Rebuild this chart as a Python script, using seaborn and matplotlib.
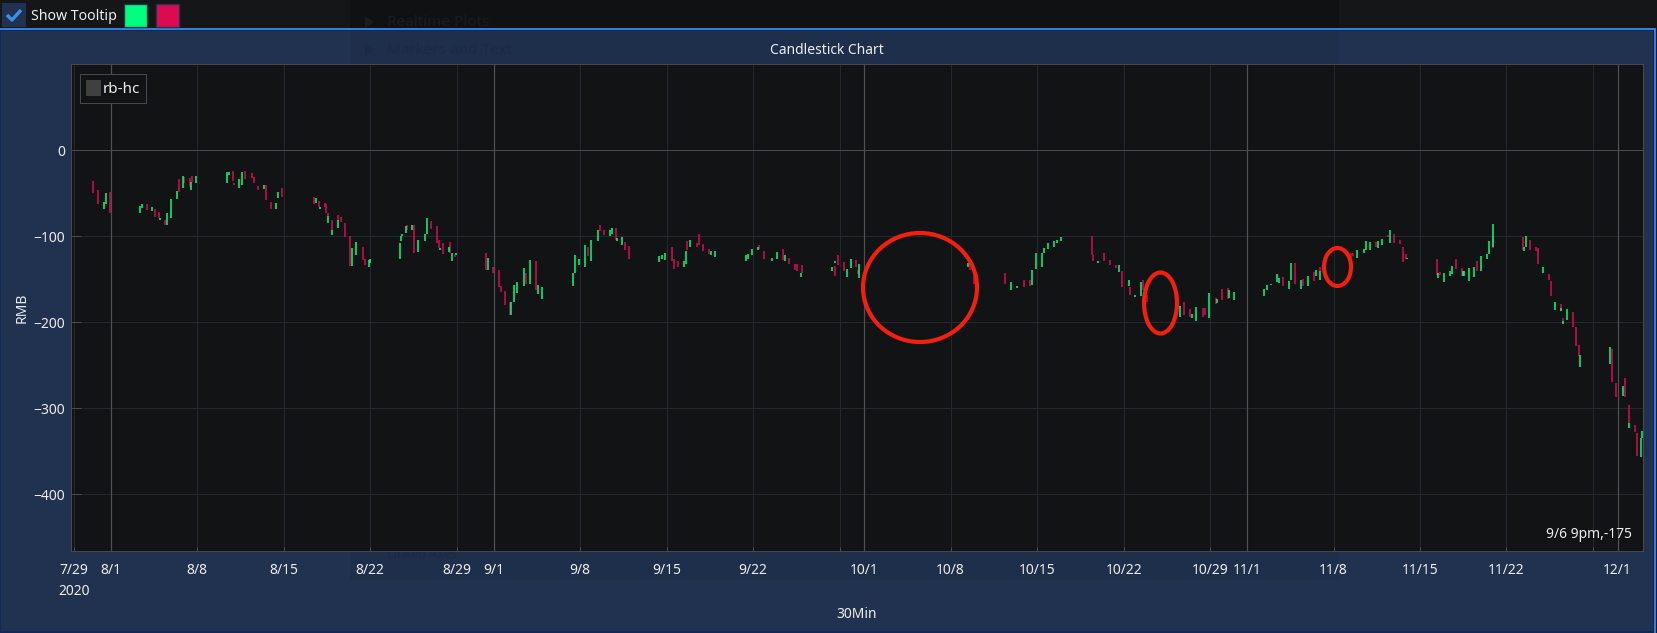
import matplotlib
matplotlib.use("Agg")
import matplotlib.pyplot as plt
from matplotlib.patches import Rectangle, Ellipse, Patch, Polygon
from matplotlib.ticker import FixedLocator, FixedFormatter
import pandas as pd
import seaborn as sns

# Days counted from 1 August 2020; one bar every 30 minutes of trading
days = [
    -1.43, -1.07, -0.58, -0.42, -0.10,
    2.38, 2.54, 2.90, 3.35, 3.57, 3.87, 3.95, 4.40, 4.57, 4.89, 5.38, 5.54, 5.86, 5.92, 6.40, 6.49, 6.59, 6.91,
    9.38, 9.56, 9.89, 9.94, 10.37, 10.59, 10.88, 11.42, 11.59, 11.89, 12.40, 12.58, 12.94, 13.39, 13.55, 13.88,
    16.42, 16.58, 16.87, 16.93, 17.36, 17.44, 17.58, 17.60, 17.90, 17.93, 18.36, 18.41, 18.61, 18.93, 19.38, 19.50, 19.88, 20.39, 20.57, 20.87, 20.95,
    23.38, 23.46, 23.57, 23.87, 23.95, 24.40, 24.57, 24.89, 25.43, 25.57, 25.92, 26.38, 26.54, 26.62, 26.91, 27.38, 27.46, 27.62, 27.89, 27.94,
    30.40, 30.56, 30.91, 31.40, 31.59, 31.89, 32.31, 32.40, 32.61, 32.88, 33.42, 33.59, 33.93, 34.39, 34.58, 34.90,
    37.42, 37.58, 37.90, 38.39, 38.61, 38.87, 39.42, 39.60, 39.90, 40.41, 40.57, 40.90, 40.98, 41.38, 41.60, 41.95,
    44.40, 44.60, 44.89, 45.43, 45.62, 45.92, 46.38, 46.54, 46.62, 46.89, 47.43, 47.62, 47.92, 48.40, 48.59, 48.89,
    51.42, 51.61, 51.91, 52.37, 52.50, 52.90, 53.50, 53.93, 54.44, 54.61, 54.90, 55.39, 55.58, 55.88, 55.96,
    58.41, 58.59, 58.63, 58.90, 59.38, 59.60, 59.90, 60.35, 60.52, 60.60,
    69.37, 69.59, 69.89,
    72.37, 72.90, 73.39, 73.91, 74.42, 74.58, 74.91, 75.39, 75.58, 75.90, 76.39, 76.58, 76.91,
    79.42, 79.54, 79.92, 80.43, 80.90, 81.38, 81.60, 81.89, 82.41, 82.54, 82.90, 83.38, 83.54, 83.89,
    86.57, 86.89, 87.40, 87.56, 87.88, 88.40, 88.56, 88.89, 89.46, 89.56, 89.94, 90.43, 90.55, 90.94,
    93.39, 93.58, 93.91, 94.39, 94.58, 94.91, 95.39, 95.58, 95.90, 96.40, 96.55, 96.89, 97.39, 97.58, 97.90, 97.92,
    100.43, 100.59, 100.87, 101.44, 101.60, 101.92, 102.44, 102.60, 102.92, 103.43, 103.57, 103.89, 104.38, 104.60, 104.89, 104.95,
    107.37, 107.45, 107.59, 107.94, 108.40, 108.59, 108.89, 109.40, 109.45, 109.59, 109.94, 110.39, 110.59, 110.91, 111.42, 111.58, 111.88, 111.93,
    114.36, 114.44, 114.58, 114.91, 115.37, 115.58, 115.92, 116.42, 116.58, 116.93, 117.39, 117.45, 117.58, 117.60, 117.90, 118.39, 118.61, 118.90, 118.96,
    121.41, 121.58, 121.90, 122.42, 122.58, 122.90, 122.95, 123.41, 123.58, 123.88, 123.96,
]
highs = [
    -36, -46, -60, -50, -49,
    -65, -63, -63, -66, -69, -72, -79, -81, -73, -57, -48, -34, -30, -31, -32, -37, -30, -30,
    -26, -26, -24, -38, -34, -26, -24, -27, -31, -42, -41, -41, -60, -61, -49, -44,
    -55, -56, -59, -66, -62, -63, -73, -77, -81, -93, -81, -75, -78, -85, -100, -114, -107, -112, -126, -128, -127,
    -108, -100, -98, -88, -87, -87, -87, -104, -98, -79, -82, -88, -105, -114, -108, -113, -107, -120, -122, -120,
    -120, -125, -136, -139, -158, -164, -177, -177, -157, -153, -137, -143, -128, -129, -157, -159,
    -143, -122, -126, -110, -112, -105, -93, -87, -93, -93, -91, -91, -102, -101, -107, -111,
    -123, -122, -119, -113, -127, -129, -129, -117, -106, -104, -108, -98, -109, -115, -117, -117,
    -122, -121, -115, -112, -110, -117, -125, -118, -115, -122, -125, -132, -132, -143, -134,
    -136, -135, -129, -122, -130, -138, -127, -128, -139, -132,
    -131, -131, -141,
    -143, -153, -158, -151, -151, -139, -120, -119, -114, -108, -106, -105, -101,
    -100, -122, -129, -120, -128, -133, -134, -141, -151, -159, -168, -153, -151, -168,
    -181, -177, -185, -190, -182, -183, -183, -166, -172, -173, -161, -160, -163, -165,
    -161, -157, -155, -144, -149, -148, -152, -131, -131, -151, -150, -146, -142, -139, -136, -141,
    -120, -119, -116, -115, -106, -107, -107, -106, -103, -99, -93, -97, -104, -112, -121, -125,
    -126, -143, -142, -143, -140, -135, -127, -137, -141, -141, -137, -136, -129, -123, -121, -106, -100, -86,
    -101, -112, -100, -105, -113, -114, -136, -144, -152, -177, -179, -184, -195, -199, -185, -188, -206, -226, -238,
    -229, -231, -271, -274, -265, -296, -317, -319, -329, -334, -326,
]
lows = [
    -50, -63, -69, -63, -73,
    -73, -67, -70, -71, -78, -79, -81, -87, -87, -79, -57, -49, -44, -38, -43, -46, -37, -38,
    -38, -29, -36, -41, -44, -41, -34, -33, -38, -46, -45, -58, -68, -68, -56, -55,
    -63, -62, -66, -69, -66, -73, -77, -85, -93, -99, -91, -82, -84, -101, -135, -135, -122, -128, -134, -136, -131,
    -127, -106, -100, -96, -93, -93, -120, -118, -106, -97, -92, -108, -114, -116, -121, -118, -120, -129, -124, -122,
    -139, -139, -143, -159, -165, -180, -192, -192, -176, -166, -158, -155, -156, -163, -167, -173,
    -158, -143, -134, -136, -123, -129, -106, -94, -99, -100, -97, -105, -106, -110, -116, -127,
    -130, -126, -128, -129, -138, -136, -136, -132, -116, -113, -113, -110, -117, -121, -122, -124,
    -129, -126, -122, -116, -115, -126, -129, -127, -128, -129, -132, -139, -141, -148, -143,
    -141, -146, -131, -133, -140, -147, -137, -136, -144, -149,
    -136, -139, -155,
    -155, -162, -160, -159, -158, -157, -138, -136, -119, -115, -113, -108, -106,
    -122, -129, -131, -129, -133, -137, -142, -159, -158, -168, -171, -170, -163, -176,
    -194, -192, -194, -195, -199, -194, -192, -195, -179, -178, -174, -173, -172, -174,
    -169, -163, -157, -153, -154, -158, -161, -151, -155, -161, -158, -158, -152, -146, -141, -151,
    -125, -123, -125, -119, -116, -116, -113, -114, -110, -101, -108, -108, -109, -130, -127, -127,
    -145, -149, -145, -153, -146, -144, -138, -146, -146, -146, -152, -147, -140, -141, -127, -121, -114, -113,
    -116, -117, -113, -116, -117, -132, -143, -151, -170, -186, -187, -187, -199, -202, -197, -206, -228, -239, -252,
    -249, -269, -287, -286, -287, -317, -323, -328, -355, -356, -335,
]
# G = closed higher, R = closed lower
moves = (
    "RRGGR"
    "GGRGRRGRGGGRGRRGRG"
    "GGRRGGRRRRGRRGGR"
    "RGRGRRRGRGGRRRRGGRRGG"
    "GGGGRGRGGGRRRGRGRGRG"
    "RGRRRRRGGGGRGRGG"
    "GGGGRGGRRGGRGGRR"
    "GGGRRRGGRGRRRRGG"
    "GGGGRRGGRGRRRGR"
    "GRGRRGGRRG"
    "GRR"
    "RGGRRGGGGGGGG"
    "RRGRRRGRGRGGRR"
    "GRRGGRRGRGRRGG"
    "GGGGGRGGRGRGRGRG"
    "RRGGGGRGGRGRRRRG"
    "RGRGGGRRGGGGRGGGRG"
    "RGGRRRGRRGRGRGGRRRG"
    "GRRGRRGRRGG"
)

tick_days = [-3, 0, 7, 14, 21, 28, 31, 38, 45, 52, 59, 61, 68, 75, 82, 89, 92, 99, 106, 113, 120, 122]
tick_labels = ["7/29\n2020", "8/1", "8/8", "8/15", "8/22", "8/29", "9/1", "9/8", "9/15", "9/22", "",
               "10/1", "10/8", "10/15", "10/22", "10/29", "11/1", "11/8", "11/15", "11/22", "", "12/1"]
month_starts = [0, 31, 61, 92, 122]
y_ticks = [0, -100, -200, -300, -400]

FONT = ["Noto Sans", "DejaVu Sans"]
WHITE = "#ECECEC"
GREEN = "#00FF7F"
RED = "#DC0B4F"
PANEL = "#20324F"
PLOT = "#111315"
W, H = 1658, 633
PX = 0.72  # one pixel in points

sns.set_theme(style="dark")
plt.rcParams["font.family"] = FONT
plt.rcParams["font.size"] = 10

fig = plt.figure(figsize=(W / 100, H / 100), dpi=100, facecolor="#151618")


def pixel_axes(z):
    a = fig.add_axes([0, 0, 1, 1], zorder=z)
    a.set_xlim(0, W)
    a.set_ylim(H, 0)
    a.axis("off")
    a.patch.set_alpha(0)
    return a


# Window behind the chart: toolbar, panel, ghosted sidebar text
bg = pixel_axes(-1)
bg.add_patch(Rectangle((350, 0), 989, 28, fc="#101113", ec="none"))
bg.add_patch(Rectangle((0, 28), 1656, 605, fc="#0F2A55", ec="none"))
bg.add_patch(Rectangle((0, 28), 1656, 2.4, fc="#2F80E0", ec="none"))
bg.add_patch(Rectangle((1654, 28), 2.2, 605, fc="#2F80E0", ec="none"))
bg.add_patch(Rectangle((1.5, 31), 1651.5, 600, fc=PANEL, ec="none"))
bg.add_patch(Rectangle((350, 31), 989, 33, fc="#1E2F4B", ec="none"))
bg.add_patch(Rectangle((350, 551), 989, 29, fc="#1E2F4B", ec="none"))
bg.add_patch(Polygon([(365, 16), (374, 22), (365, 28)], fc="#1B1C1F", ec="none"))
bg.add_patch(Polygon([(365, 44), (374, 50), (365, 56)], fc="#1C2B44", ec="none"))
bg.text(387, 22, "Realtime Plots", color="#1B1C1F", fontsize=11, va="center")
bg.text(387, 50, "Markers and Text", color="#1C2B44", fontsize=11, va="center")
bg.text(387, 555, "Linked Axes", color="#1C2B44", fontsize=9, va="center")
# Toolbar widgets
bg.add_patch(Rectangle((2, 3), 24, 24, fc=PANEL, ec="none"))
bg.plot([7, 12, 21], [15, 20, 10], color="#3F8FEF", lw=2.4, solid_capstyle="butt")
bg.text(31, 16, "Show Tooltip", color=WHITE, fontsize=10.2, va="center")
bg.add_patch(Rectangle((124.5, 3.5), 23, 23, fc=GREEN, ec="#1F3A4F", lw=1))
bg.add_patch(Rectangle((156.5, 3.5), 23, 23, fc=RED, ec="#2A2F55", lw=1))

# Main chart
ax = fig.add_axes([70.7 / W, 1 - 551 / H, 1572 / W, 487 / H], zorder=1, facecolor=PLOT)

rows = []
for i, (d, hi, lo, m) in enumerate(zip(days, highs, lows, moves)):
    rows.append({"bar": i, "day": d, "price": hi, "move": m})
    rows.append({"bar": i, "day": d, "price": lo, "move": m})
bars = pd.DataFrame(rows)

ax.set_xlim(-3.255, 124.03)
ax.set_ylim(-465.7, 100)
ax.xaxis.set_major_locator(FixedLocator(tick_days))
ax.xaxis.set_major_formatter(FixedFormatter(tick_labels))
ax.set_yticks(y_ticks)
ax.grid(True, color="#25272A", lw=PX)
ax.set_axisbelow(True)
for d in month_starts:
    ax.axvline(d, color="#4F5052", lw=PX * 1.2, zorder=1)
ax.axhline(0, color="#4A4B4D", lw=PX, zorder=1)

sns.lineplot(data=bars, x="day", y="price", hue="move", units="bar", estimator=None, sort=False,
             palette={"G": GREEN, "R": RED}, linewidth=1.1, solid_capstyle="butt",
             legend=False, ax=ax, zorder=3)

for sp in ax.spines.values():
    sp.set_color("#46484B")
    sp.set_linewidth(PX)
ax.tick_params(axis="both", which="major", direction="in", color="#4A4B4D", labelcolor=WHITE,
               labelsize=10, width=PX, left=True, bottom=True)
ax.tick_params(axis="x", length=3, pad=8.5)
ax.tick_params(axis="y", length=7, pad=4)
for t, d in zip(ax.xaxis.get_major_ticks(), tick_days):
    if d in month_starts:
        t.tick1line.set_markersize(7)
for lab in ax.get_xticklabels():
    lab.set_linespacing(1.55)

ax.set_title("Candlestick Chart", color=WHITE, fontsize=10, x=(827 - 70.7) / 1572, y=(551 - 51) / 487,
             va="center", pad=0)
ax.set_xlabel("30Min", color=WHITE, fontsize=10, va="center")
ax.xaxis.set_label_coords(0.5, -(615 - 551) / 487)
ax.set_ylabel("RMB", color=WHITE, fontsize=10, va="center")
ax.yaxis.set_label_coords((22 - 70.7) / 1572, 0.5)

leg = ax.legend(handles=[Patch(fc="#404040", ec="none", label="rb-hc")], loc="upper left",
                bbox_to_anchor=((80 - 70.7) / 1572, 1 - (74 - 64) / 487), borderaxespad=0,
                handlelength=0.95, handleheight=1.2, handletextpad=0.15, borderpad=0.4, fontsize=11,
                frameon=True, fancybox=False, facecolor=PLOT, edgecolor="#46484B", framealpha=1)
leg.get_texts()[0].set_color(WHITE)
leg.get_frame().set_linewidth(PX)

ax.text((1632 - 70.7) / 1572, (551 - 534) / 487, "9/6 9pm,-175", transform=ax.transAxes, color=WHITE,
        fontsize=10, ha="right", va="center")

# Hand-drawn red rings
top = pixel_axes(5)
for cx, cy, w, h in [(920, 287.5, 114, 109), (1160.5, 303, 33, 61), (1337.5, 267, 27, 38)]:
    top.add_patch(Ellipse((cx, cy), w, h, fc="none", ec="#F3200F", lw=3.0))

fig.savefig("out.png", dpi=100, facecolor=fig.get_facecolor())
